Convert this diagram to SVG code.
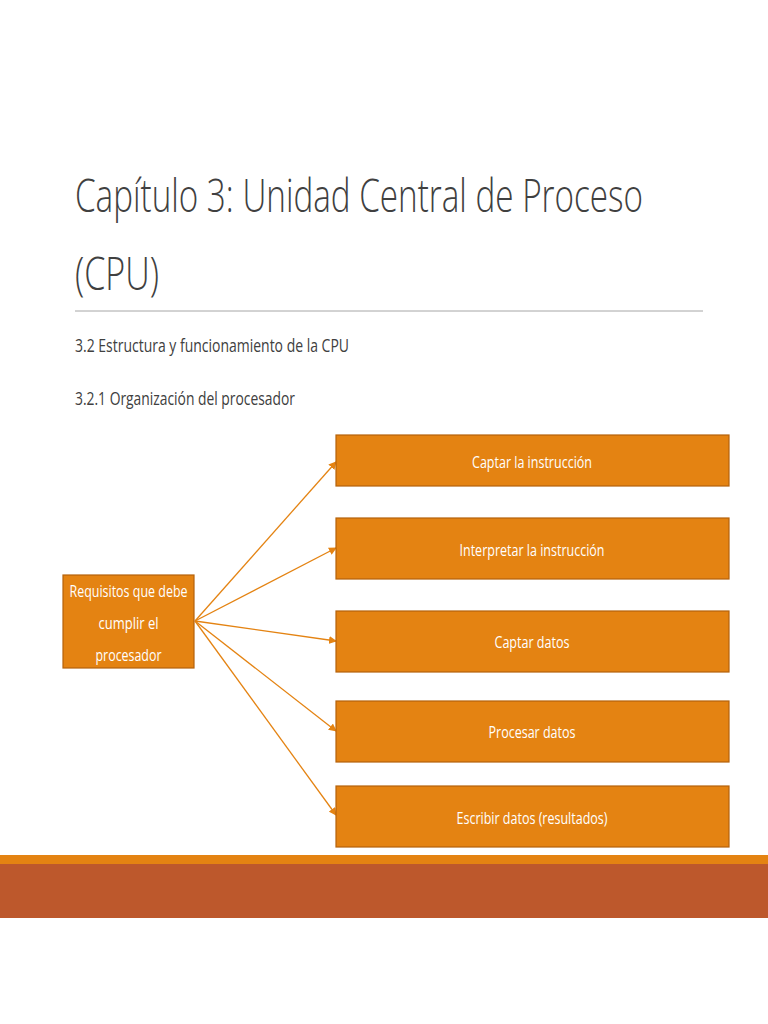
<svg xmlns="http://www.w3.org/2000/svg" width="768" height="1024" viewBox="0 0 768 1024">
<defs>
<style>
.t{font-family:"Open Sans","Liberation Sans",sans-serif;fill:#404040}
.b{fill:#e48312;stroke:#b5620b;stroke-width:1.2}
.bt{font-family:"Open Sans","Liberation Sans",sans-serif;fill:#fff;font-size:16px;text-anchor:middle}
.c{stroke:#e48312;stroke-width:1.3;fill:none;marker-end:url(#a)}
</style>
<marker id="a" markerWidth="8" markerHeight="8" refX="7" refY="4" orient="auto" markerUnits="userSpaceOnUse"><path d="M0,0 L8,4 L0,8 Z" fill="#e48312"/></marker>
</defs>
<rect width="768" height="1024" fill="#fff"/>
<text class="t" x="75" y="212" font-size="46" font-weight="300" textLength="568" lengthAdjust="spacingAndGlyphs">Capítulo 3: Unidad Central de Proceso</text>
<text class="t" x="75" y="290" font-size="46" font-weight="300" textLength="84" lengthAdjust="spacingAndGlyphs">(CPU)</text>
<line x1="75" y1="311" x2="703" y2="311" stroke="#a6a6a6" stroke-width="1"/>
<text class="t" x="75" y="352" font-size="18" textLength="274" lengthAdjust="spacingAndGlyphs">3.2 Estructura y funcionamiento de la CPU</text>
<text class="t" x="75" y="405" font-size="18" textLength="220" lengthAdjust="spacingAndGlyphs">3.2.1 Organización del procesador</text>
<g id="connectors">
<line class="c" x1="195" y1="621" x2="336" y2="462"/>
<line class="c" x1="195" y1="621" x2="336" y2="548"/>
<line class="c" x1="195" y1="621" x2="336" y2="641"/>
<line class="c" x1="195" y1="621" x2="336" y2="731"/>
<line class="c" x1="195" y1="621" x2="336" y2="815"/>
</g>
<g id="n0"><rect class="b" x="63" y="575" width="131" height="93"/>
<text class="bt" x="128.5" y="597" textLength="118" lengthAdjust="spacingAndGlyphs">Requisitos que debe</text>
<text class="bt" x="128.5" y="629" textLength="60" lengthAdjust="spacingAndGlyphs">cumplir el</text>
<text class="bt" x="128.5" y="661" textLength="66" lengthAdjust="spacingAndGlyphs">procesador</text></g>
<g id="n1"><rect class="b" x="336" y="435" width="393" height="51"/><text class="bt" x="532" y="468" textLength="120" lengthAdjust="spacingAndGlyphs">Captar la instrucción</text></g>
<g id="n2"><rect class="b" x="336" y="518" width="393" height="61"/><text class="bt" x="532" y="556" textLength="145" lengthAdjust="spacingAndGlyphs">Interpretar la instrucción</text></g>
<g id="n3"><rect class="b" x="336" y="611" width="393" height="61"/><text class="bt" x="532" y="648" textLength="75" lengthAdjust="spacingAndGlyphs">Captar datos</text></g>
<g id="n4"><rect class="b" x="336" y="701" width="393" height="61"/><text class="bt" x="532" y="738" textLength="87" lengthAdjust="spacingAndGlyphs">Procesar datos</text></g>
<g id="n5"><rect class="b" x="336" y="786" width="393" height="61"/><text class="bt" x="532" y="824" textLength="151" lengthAdjust="spacingAndGlyphs">Escribir datos (resultados)</text></g>
<rect x="0" y="855" width="768" height="9" fill="#e48312"/>
<rect x="0" y="864" width="768" height="54" fill="#bd582c"/>
</svg>
